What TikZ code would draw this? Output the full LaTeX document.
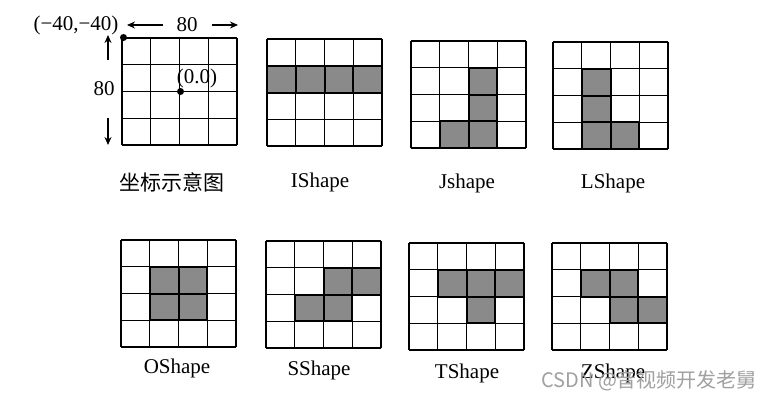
\documentclass[tikz,border=0pt]{standalone}
\usepackage{fontspec}
\setmainfont{Liberation Serif}
\newfontfamily\cjk{Noto Sans CJK SC}
\usetikzlibrary{arrows.meta}
\definecolor{cellgray}{HTML}{8A8A8A}
\definecolor{wmgray}{HTML}{A0A0A0}
\tikzset{
  gridline/.style={line width=1.4pt, black},
  cellbox/.style={fill=cellgray, draw=black, line width=2pt},
  lbl/.style={font=\fontsize{21}{24}\selectfont, inner sep=0pt},
  cjklbl/.style={font=\cjk\fontsize{21}{24}\selectfont, inner sep=0pt},
  dimarrow/.style={line width=1.3pt, -{Stealth[length=8pt,width=7pt]}},
  dotmark/.style={circle, fill=black, inner sep=0pt, minimum size=7pt},
  watermark/.style={font=\cjk\fontsize{20}{24}\selectfont, text=wmgray, inner sep=0pt}
}
% #1 left, #2 top, #3 list of row/col filled cells
\newcommand{\tetgrid}[3]{%
  \foreach \rr/\cc in {#3} {
    \filldraw[cellbox] ({#1+\cc*28.75},{#2+\rr*26.75}) rectangle ++(28.75,26.75);
  }
  \foreach \i in {0,...,4} {
    \draw[gridline] ({#1+\i*28.75},#2) -- ++(0,107);
    \draw[gridline] (#1,{#2+\i*26.75}) -- ++(115,0);
  }
  \foreach \rr/\cc in {#3} {
    \draw[cellbox, fill=none] ({#1+\cc*28.75},{#2+\rr*26.75}) rectangle ++(28.75,26.75);
  }
}
\begin{document}
\begin{tikzpicture}[x=1pt,y=-1pt]
\useasboundingbox (0,0) rectangle (762,400);
\fill[white] (0,0) rectangle (762,400);

% coordinate grid
\tetgrid{122}{38}{}
\node[dotmark] (corner) at (123.5,37.5) {};
\node[dotmark] (origin) at (180.5,91.5) {};
\node[lbl] (cornerlbl) at (76,25) {(−40,−40)};
\node[lbl] (originlbl) at (197,78) {(0.0)};
\node[lbl] (wlbl) at (187,25) {80};
\node[lbl] (hlbl) at (104,89) {80};
\coordinate (la) at (127,25);
\coordinate (ra) at (238,25);
\coordinate (ua) at (108,35);
\coordinate (da) at (108,145);
\draw[dimarrow] (wlbl.west) ++(-13,0) -- (la);
\draw[dimarrow] (wlbl.east) ++(14,0) -- (ra);
\draw[dimarrow] (hlbl.north) ++(4,-22) -- (ua);
\draw[dimarrow] (hlbl.south) ++(4,22) -- (da);

% shapes
\tetgrid{267}{39}{1/0,1/1,1/2,1/3}
\tetgrid{411}{41}{1/2,2/2,3/1,3/2}
\tetgrid{553}{42}{1/1,2/1,3/1,3/2}
\tetgrid{121}{240}{1/1,1/2,2/1,2/2}
\tetgrid{266}{241}{1/2,1/3,2/1,2/2}
\tetgrid{409}{243}{1/1,1/2,1/3,2/2}
\tetgrid{552}{243}{1/1,1/2,2/2,2/3}

% labels
\node[cjklbl] (t0) at (172,182) {坐标示意图};
\node[lbl] (t1) at (320,182) {IShape};
\node[lbl] (t2) at (467,183) {Jshape};
\node[lbl] (t3) at (613,183) {LShape};
\node[lbl] (t4) at (177,368) {OShape};
\node[lbl] (t5) at (319,370) {SShape};
\node[lbl] (t6) at (467,373) {TShape};
\node[lbl] (t7) at (613,373) {ZShape};
\node[watermark, anchor=west] (wm) at (541,381) {CSDN @音视频开发老舅};
\end{tikzpicture}
\end{document}
